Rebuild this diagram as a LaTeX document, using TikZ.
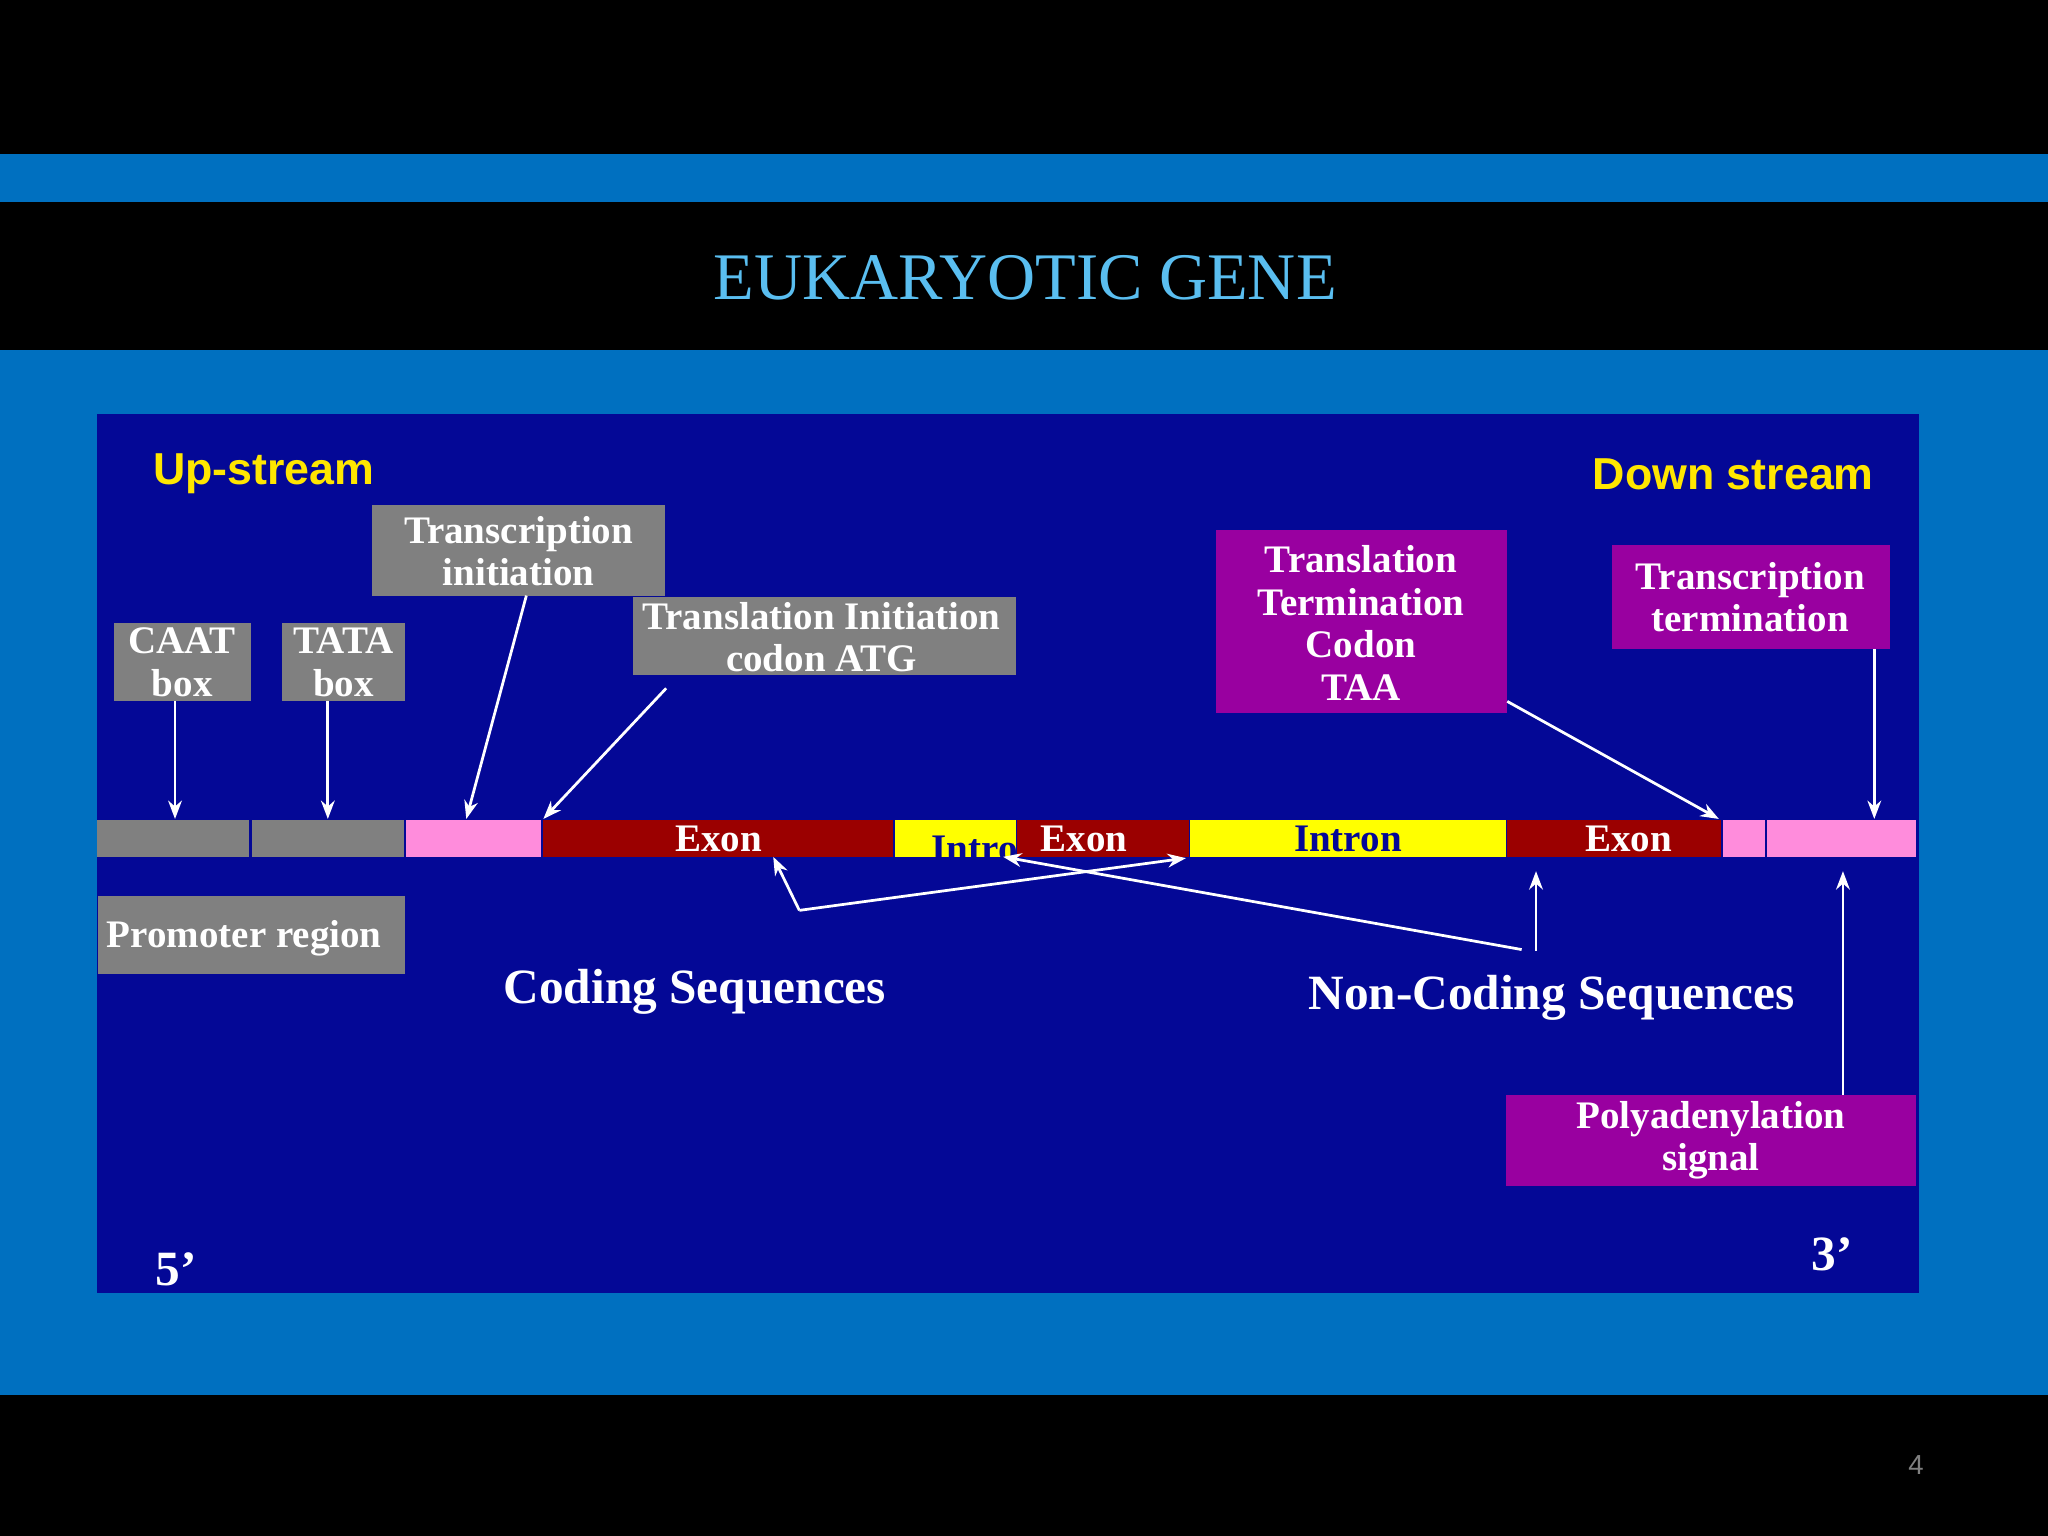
\documentclass[tikz,border=0pt]{standalone}
\usepackage{fontspec}
\setmainfont{Liberation Serif}
\newfontfamily\sansf{Liberation Sans}
\usetikzlibrary{arrows.meta}
\definecolor{slideblue}{RGB}{0,112,192}
\definecolor{panel}{RGB}{4,8,150}
\definecolor{titleblue}{RGB}{90,190,240}
\definecolor{gbox}{RGB}{128,128,128}
\definecolor{mbox}{RGB}{153,0,160}
\definecolor{exon}{RGB}{155,0,0}
\definecolor{intron}{RGB}{255,255,0}
\definecolor{pinkseg}{RGB}{255,140,220}
\definecolor{graseg}{RGB}{128,128,128}
\definecolor{updown}{RGB}{255,230,0}
\begin{document}
\begin{tikzpicture}[x={(0.02cm,0)},y={(0,-0.02cm)},
  box/.style={font=\fontsize{17}{18.5}\selectfont\bfseries, text=white, align=center, inner sep=0pt},
  segtxt/.style={font=\fontsize{17}{18}\selectfont\bfseries},
  arr/.style={white, line width=1.2pt, -{Stealth[length=8pt,width=6pt]}},
  big/.style={font=\fontsize{21.5}{24}\selectfont\bfseries, text=white}]
\useasboundingbox (0,0) rectangle (1568,1176);
\fill[black] (0,0) rectangle (1568,1176);
\fill[slideblue] (0,118) rectangle (1568,1068);
\fill[black] (0,155) rectangle (1568,268);
\node[text=titleblue, font=\fontsize{29}{32}\selectfont] (title) at (785,213) {EUKARYOTIC GENE};
\node[text=gray, font=\sansf\fontsize{12}{14}\selectfont] (pg) at (1467,1122) {4};
\fill[panel] (74,317) rectangle (1469,990);
\node[text=updown, font=\sansf\bfseries\fontsize{19.5}{22}\selectfont] (up) at (202,363) {Up-stream};
\node[text=updown, font=\sansf\bfseries\fontsize{19.5}{22}\selectfont] (down) at (1327,363) {Down stream};
% gray boxes
\fill[gbox] (87,477) rectangle (192,537); \node[box] (caat) at (139.5,507) {CAAT\\box};
\fill[gbox] (216,477) rectangle (310,537); \node[box] (tata) at (263,507) {TATA\\box};
\fill[gbox] (285,387) rectangle (509,456); \node[box] (tinit) at (397,422) {Transcription\\initiation};
\fill[gbox] (485,457) rectangle (778,517); \node[box] (atg) at (629,488) {Translation Initiation\\codon ATG};
\fill[gbox] (75,686) rectangle (310,746); \node[box] (prom) at (187,718) {Promoter region};
% magenta boxes
\fill[mbox] (931,406) rectangle (1154,546); \node[box] (taa) at (1042,477) {Translation\\Termination\\Codon\\TAA};
\fill[mbox] (1234,417) rectangle (1447,497); \node[box] (tterm) at (1340,457) {Transcription\\termination};
\fill[mbox] (1153,838) rectangle (1467,908); \node[box] (poly) at (1310,873) {Polyadenylation\\signal};
% gene bar
\fill[graseg] (74,628) rectangle (191,656);
\fill[graseg] (193,628) rectangle (309,656);
\fill[pinkseg] (311,628) rectangle (414,656);
\fill[exon] (416,628) rectangle (684,656);
\fill[intron] (685,628) rectangle (778,656);
\fill[exon] (779,628) rectangle (910,656);
\fill[intron] (911,628) rectangle (1153,656);
\fill[exon] (1154,628) rectangle (1318,656);
\fill[pinkseg] (1319,628) rectangle (1351,656);
\fill[pinkseg] (1353,628) rectangle (1467,656);
\node[segtxt, text=white] (e1) at (550,642) {Exon};
\begin{scope}
\clip (685,628) rectangle (778,656);
\node[segtxt, text=panel, anchor=west] (i1) at (707,650) {Intron};
\end{scope}
\node[segtxt, text=white] (e2) at (830,642) {Exon};
\node[segtxt, text=panel] (i2) at (1032,642) {Intron};
\node[segtxt, text=white] (e3) at (1247,642) {Exon};
% coordinates
\coordinate (caatS) at (134,537); \coordinate (caatT) at (134,627);
\coordinate (tataS) at (251,537); \coordinate (tataT) at (251,627);
\coordinate (tinitS) at (403,456); \coordinate (tinitT) at (357,627);
\coordinate (atgS) at (510,527); \coordinate (atgT) at (416,627);
\coordinate (taaS) at (1154,537); \coordinate (taaT) at (1316,627);
\coordinate (ttermS) at (1435,497); \coordinate (ttermT) at (1435,627);
\coordinate (polyS) at (1411,838); \coordinate (polyT) at (1411,667);
\coordinate (ncS) at (1176,728); \coordinate (ncT) at (1176,667);
\coordinate (cs) at (612,697); \coordinate (c1) at (592,656); \coordinate (c2) at (908,657);
\coordinate (ncS2) at (1165,727); \coordinate (ncT2) at (768,656);
\draw[arr] (caatS) -- (caatT);
\draw[arr] (tataS) -- (tataT);
\draw[arr] (tinitS) -- (tinitT);
\draw[arr] (atgS) -- (atgT);
\draw[arr] (taaS) -- (taaT);
\draw[arr] (ttermS) -- (ttermT);
\draw[arr] (polyS) -- (polyT);
\draw[arr] (ncS) -- (ncT);
\draw[arr] (cs) -- (c1);
\draw[arr] (cs) -- (c2);
\draw[arr] (ncS2) -- (ncT2);
\node[big] (coding) at (532,759) {Coding Sequences};
\node[big] (noncoding) at (1188,764) {Non-Coding Sequences};
\node[big] (five) at (135,972) {5’};
\node[big] (three) at (1403,960) {3’};
\end{tikzpicture}
\end{document}
